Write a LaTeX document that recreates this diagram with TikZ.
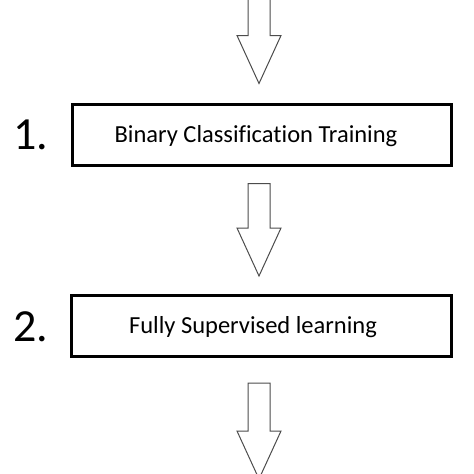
\documentclass[tikz,border=0pt]{standalone}
\usepackage{fontspec}
\setmainfont{Carlito}[Ligatures=NoCommon]
\usetikzlibrary{calc}

\tikzset{
  stagebox/.style={draw, line width=3pt, minimum height=61pt, inner sep=0pt, text height=15.8pt, text depth=0pt, font=\fontsize{24.5}{29}\selectfont},
  stagenum/.style={inner sep=0pt, font=\fontsize{46}{54}\selectfont},
  hollow/.style={draw=black!70, line width=1pt, fill=white, line join=miter}
}

% block arrow from the top of its shaft (#1) to its tip (#2)
\newcommand{\hollowarrow}[2]{%
  \draw[hollow] ($(#1)+(-11,0)$) -- ($(#2)+(-11,-48)$) -- ($(#2)+(-22,-48)$) -- (#2)
    -- ($(#2)+(22,-48)$) -- ($(#2)+(11,-48)$) -- ($(#1)+(11,0)$) -- cycle;}

\begin{document}
\begin{tikzpicture}[x=1pt, y=-1pt]
      \useasboundingbox (0,0) rectangle (474,474);
      \node[stagebox, minimum width=379pt] (train) at (261.5,134.5) {Binary Classification Training\kern11pt};
      \node[stagebox, minimum width=380pt] (super) at (261.5,326) {Fully Supervised learning\kern17pt};
      \node[stagenum, anchor=west] (n1) at (13,135) {1.};
      \node[stagenum, anchor=west] (n2) at (13,327) {2.};
      \coordinate (a1s) at (259,-5);
      \coordinate (a1t) at ($(train.north)+(-2.5,-19)$);
      \coordinate (a2s) at ($(train.south)+(-2.5,17)$);
      \coordinate (a2t) at ($(super.north)+(-2.5,-18)$);
      \coordinate (a3s) at ($(super.south)+(-2.5,25)$);
      \coordinate (a3t) at (259,479);
      \hollowarrow{a1s}{a1t}
      \hollowarrow{a2s}{a2t}
      \hollowarrow{a3s}{a3t}
    \end{tikzpicture}
\end{document}
